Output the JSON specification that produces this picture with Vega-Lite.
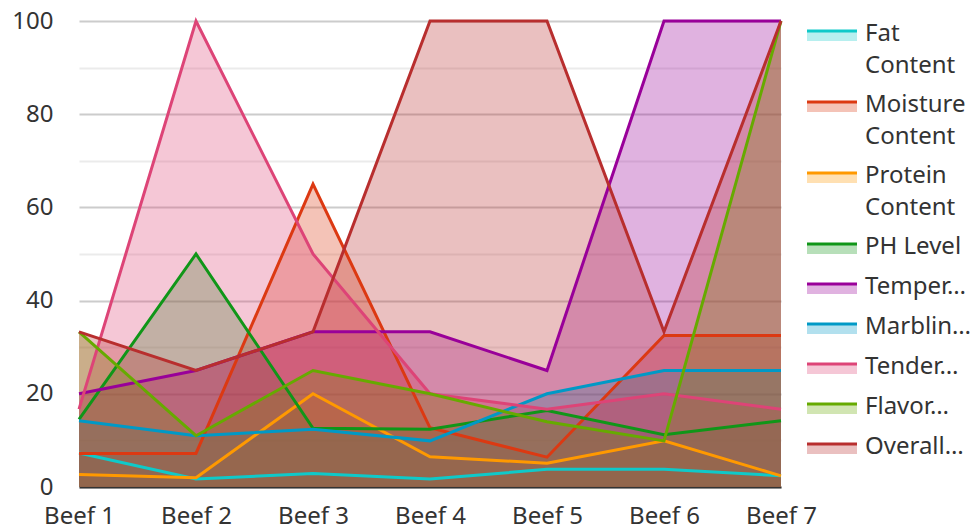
{
  "$schema": "https://vega.github.io/schema/vega-lite/v6.json",
  "autosize": "none",
  "width": 702,
  "height": 466,
  "padding": {"left": 79, "top": 21, "right": 197, "bottom": 42},
  "config": {
    "font": "Noto Sans",
    "view": {"stroke": null},
    "axis": {"labelFont": "Noto Sans", "labelFontSize": 24, "labelColor": "#333", "labelFontWeight": "normal"},
    "legend": {"labelFont": "Noto Sans", "labelFontSize": 24, "labelColor": "#333", "labelFontWeight": "normal"}
  },
  "data": {"values": [
    {"beef": "Beef 1", "metric": "Fat Content", "value": 7.3},
    {"beef": "Beef 2", "metric": "Fat Content", "value": 1.7},
    {"beef": "Beef 3", "metric": "Fat Content", "value": 2.9},
    {"beef": "Beef 4", "metric": "Fat Content", "value": 1.7},
    {"beef": "Beef 5", "metric": "Fat Content", "value": 3.8},
    {"beef": "Beef 6", "metric": "Fat Content", "value": 3.8},
    {"beef": "Beef 7", "metric": "Fat Content", "value": 2.4},
    {"beef": "Beef 1", "metric": "Moisture Content", "value": 7.2},
    {"beef": "Beef 2", "metric": "Moisture Content", "value": 7.2},
    {"beef": "Beef 3", "metric": "Moisture Content", "value": 65},
    {"beef": "Beef 4", "metric": "Moisture Content", "value": 12.7},
    {"beef": "Beef 5", "metric": "Moisture Content", "value": 6.4},
    {"beef": "Beef 6", "metric": "Moisture Content", "value": 32.5},
    {"beef": "Beef 7", "metric": "Moisture Content", "value": 32.5},
    {"beef": "Beef 1", "metric": "Protein Content", "value": 2.7},
    {"beef": "Beef 2", "metric": "Protein Content", "value": 2.0},
    {"beef": "Beef 3", "metric": "Protein Content", "value": 20},
    {"beef": "Beef 4", "metric": "Protein Content", "value": 6.5},
    {"beef": "Beef 5", "metric": "Protein Content", "value": 5.1},
    {"beef": "Beef 6", "metric": "Protein Content", "value": 9.9},
    {"beef": "Beef 7", "metric": "Protein Content", "value": 2.4},
    {"beef": "Beef 1", "metric": "PH Level", "value": 14.5},
    {"beef": "Beef 2", "metric": "PH Level", "value": 50},
    {"beef": "Beef 3", "metric": "PH Level", "value": 12.6},
    {"beef": "Beef 4", "metric": "PH Level", "value": 12.4},
    {"beef": "Beef 5", "metric": "PH Level", "value": 16.4},
    {"beef": "Beef 6", "metric": "PH Level", "value": 11.2},
    {"beef": "Beef 7", "metric": "PH Level", "value": 14.2},
    {"beef": "Beef 1", "metric": "Temperature", "value": 20},
    {"beef": "Beef 2", "metric": "Temperature", "value": 25},
    {"beef": "Beef 3", "metric": "Temperature", "value": 33.3},
    {"beef": "Beef 4", "metric": "Temperature", "value": 33.3},
    {"beef": "Beef 5", "metric": "Temperature", "value": 25},
    {"beef": "Beef 6", "metric": "Temperature", "value": 100},
    {"beef": "Beef 7", "metric": "Temperature", "value": 100},
    {"beef": "Beef 1", "metric": "Marbling Score", "value": 14.2},
    {"beef": "Beef 2", "metric": "Marbling Score", "value": 11},
    {"beef": "Beef 3", "metric": "Marbling Score", "value": 12.4},
    {"beef": "Beef 4", "metric": "Marbling Score", "value": 9.9},
    {"beef": "Beef 5", "metric": "Marbling Score", "value": 20},
    {"beef": "Beef 6", "metric": "Marbling Score", "value": 25},
    {"beef": "Beef 7", "metric": "Marbling Score", "value": 25},
    {"beef": "Beef 1", "metric": "Tenderness", "value": 16.7},
    {"beef": "Beef 2", "metric": "Tenderness", "value": 100},
    {"beef": "Beef 3", "metric": "Tenderness", "value": 50},
    {"beef": "Beef 4", "metric": "Tenderness", "value": 20},
    {"beef": "Beef 5", "metric": "Tenderness", "value": 16.7},
    {"beef": "Beef 6", "metric": "Tenderness", "value": 20},
    {"beef": "Beef 7", "metric": "Tenderness", "value": 16.7},
    {"beef": "Beef 1", "metric": "Flavor Score", "value": 33.3},
    {"beef": "Beef 2", "metric": "Flavor Score", "value": 11},
    {"beef": "Beef 3", "metric": "Flavor Score", "value": 25},
    {"beef": "Beef 4", "metric": "Flavor Score", "value": 20},
    {"beef": "Beef 5", "metric": "Flavor Score", "value": 14},
    {"beef": "Beef 6", "metric": "Flavor Score", "value": 9.9},
    {"beef": "Beef 7", "metric": "Flavor Score", "value": 100},
    {"beef": "Beef 1", "metric": "Overall Quality", "value": 33.3},
    {"beef": "Beef 2", "metric": "Overall Quality", "value": 25},
    {"beef": "Beef 3", "metric": "Overall Quality", "value": 33.3},
    {"beef": "Beef 4", "metric": "Overall Quality", "value": 100},
    {"beef": "Beef 5", "metric": "Overall Quality", "value": 100},
    {"beef": "Beef 6", "metric": "Overall Quality", "value": 33.3},
    {"beef": "Beef 7", "metric": "Overall Quality", "value": 100}
  ]},
  "encoding": {
    "x": {
      "field": "beef", "type": "ordinal",
      "scale": {"type": "point", "padding": 0},
      "axis": {"title": null, "labelAngle": 0, "ticks": false, "grid": false, "domainColor": "#333", "domainWidth": 2, "labelPadding": 17}
    },
    "y": {
      "field": "value", "type": "quantitative",
      "stack": null,
      "scale": {"domain": [0, 100], "nice": false},
      "axis": {
        "title": null, "values": [0, 10, 20, 30, 40, 50, 60, 70, 80, 90, 100],
        "labelExpr": "datum.value % 20 === 0 ? datum.label : ''",
        "ticks": false, "domain": false, "labelPadding": 26,
        "gridColor": {"condition": {"test": "datum.value % 20 === 0", "value": "#cccccc"}, "value": "#ebebeb"},
        "gridWidth": 2
      }
    },
    "color": {
      "field": "metric", "type": "nominal",
      "scale": {
        "domain": ["Fat Content", "Moisture Content", "Protein Content", "PH Level", "Temperature", "Marbling Score", "Tenderness", "Flavor Score", "Overall Quality"],
        "range": ["#0fc9c9", "#dc3912", "#ff9900", "#109618", "#990099", "#0099c6", "#dd4477", "#66aa00", "#b82e2e"]
      },
      "legend": {
        "title": null,
        "orient": "none",
        "legendX": 741,
        "legendY": -11,
        "symbolType": "M-2.5,0.9H2.5V1.9H-2.5Z",
        "symbolSize": 400,
        "labelOffset": 21,
        "rowPadding": 3,
        "labelLimit": 200,
        "labelExpr": "datum.label == 'Fat Content' ? ['Fat', 'Content'] : datum.label == 'Moisture Content' ? ['Moisture', 'Content'] : datum.label == 'Protein Content' ? ['Protein', 'Content'] : datum.label == 'Temperature' ? 'Temper…' : datum.label == 'Marbling Score' ? 'Marblin…' : datum.label == 'Tenderness' ? 'Tender…' : datum.label == 'Flavor Score' ? 'Flavor…' : datum.label == 'Overall Quality' ? 'Overall…' : datum.label",
        "labelBaseline": "top",
        "encode": {
          "labels": {"update": {"lineHeight": {"value": 32}}},
          "symbols": {"update": {
            "fill": {"scale": "color", "field": "value"},
            "fillOpacity": {"value": 0.3},
            "stroke": {"scale": "color", "field": "value"},
            "strokeWidth": {"value": 3},
            "strokeDash": {"value": [50, 300]},
            "opacity": {"value": 1}
          }}
        }
      }
    }
  },
  "layer": [
    {"mark": {"type": "area", "fillOpacity": 0.3, "line": false}},
    {"mark": {"type": "line", "strokeWidth": 3}}
  ]
}
